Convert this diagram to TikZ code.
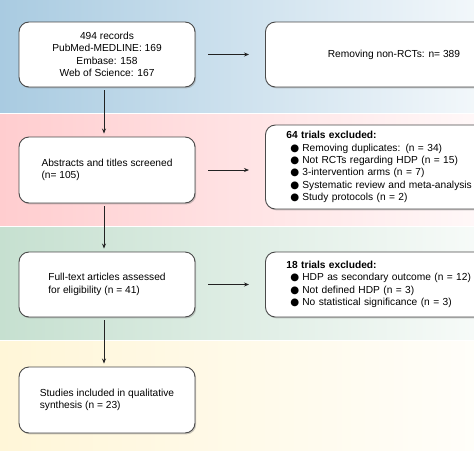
\documentclass[tikz,border=0pt]{standalone}
\usepackage{fontspec}
\setmainfont{Liberation Sans}
\newfontfamily\symfont{DejaVu Sans}
\usetikzlibrary{arrows.meta,shadows}
\definecolor{bandblue}{HTML}{A9CBE1}
\definecolor{bandpink}{HTML}{FFCDCF}
\definecolor{bandgreen}{HTML}{C6E0D0}
\definecolor{bandyellow}{HTML}{FFF6D8}
\definecolor{boxline}{HTML}{4A4A4A}
\definecolor{arrowline}{HTML}{222222}
\def\band#1#2#3{\shade[left color=#3,right color=#3!15!white] (0,#1) rectangle (474,#2);}
\def\bul{\hspace*{4pt}{\symfont\char"25CF}\hspace{3pt}}

\begin{document}
\begin{tikzpicture}[x=1pt,y=-1pt,
  box/.style={draw=boxline,fill=white,rounded corners=10pt,line width=0.9pt,
    drop shadow={shadow xshift=1.2pt,shadow yshift=-1.4pt,opacity=0.4},
    minimum height=65pt,align=left,font=\fontsize{10.2}{12.4}\selectfont},
  flow/.style={line width=0.9pt,draw=arrowline,-{Stealth[length=5pt,width=4pt]}}]
\useasboundingbox (0,0) rectangle (474,474);
\clip (0,0) rectangle (474,474);
% background bands
\band{0}{112}{bandblue}
\band{114}{225}{bandpink}
\band{227}{339}{bandgreen}
\band{341}{450}{bandyellow}
% left column
\node[box,minimum width=176pt,align=center] (rec) at (107,54.5)
  {494 records\\PubMed-MEDLINE: 169\\Embase: 158\\Web of Science: 167};
\node[box,minimum width=176pt,minimum height=66pt] (scr) at (107,170)
  {Abstracts and titles screened\\(n= 105)};
\node[box,minimum width=176pt] (full) at (107,284.5)
  {Full-text articles assessed\\for eligibility (n = 41)};
\node[box,minimum width=176pt,minimum height=66pt] (incl) at (107,400)
  {Studies included in qualitative\\synthesis (n = 23)};
% right column
\node[box,anchor=west,minimum width=257pt,align=center] (nonrct) at (265,54.5)
  {Removing non-RCTs: n= 389};
\node[box,anchor=west,minimum height=84pt,text width=240pt,inner xsep=21pt] (exc1) at (265,167)
  {\textbf{64 trials excluded:}\\
   \bul Removing duplicates: (n = 34)\\
   \bul Not RCTs regarding HDP (n = 15)\\
   \bul 3-intervention arms (n = 7)\\
   \bul Systematic review and meta-analysis (n = 5)\\
   \bul Study protocols (n = 2)};
\node[box,anchor=west,text width=240pt,inner xsep=21pt] (exc2) at (265,284.5)
  {\textbf{18 trials excluded:}\\
   \bul HDP as secondary outcome (n = 12)\\
   \bul Not defined HDP (n = 3)\\
   \bul No statistical significance (n = 3)};
% arrows
\draw[flow,shorten <=3pt,shorten >=3pt] ([xshift=-3pt]rec.south) -- ([xshift=-3pt]scr.north);
\draw[flow,shorten <=3pt,shorten >=3pt] ([xshift=-3pt]scr.south) -- ([xshift=-3pt]full.north);
\draw[flow,shorten <=3pt,shorten >=3pt] ([xshift=-3pt]full.south) -- ([xshift=-3pt]incl.north);
\draw[flow,shorten <=13pt,shorten >=16pt] (rec.east) -- (nonrct.west);
\draw[flow,shorten <=13pt,shorten >=16pt] (scr.east) -- (scr.east -| exc1.west);
\draw[flow,shorten <=13pt,shorten >=16pt] (full.east) -- (exc2.west);
\end{tikzpicture}
\end{document}
